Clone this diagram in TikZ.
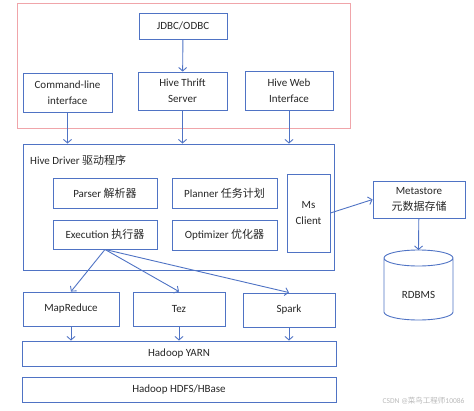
\documentclass[tikz,border=0pt]{standalone}
\usepackage{fontspec}
\setmainfont{Carlito}
\newfontfamily\cjk{Noto Sans CJK SC}
\usetikzlibrary{arrows.meta}
\definecolor{boxblue}{RGB}{79,115,196}
\definecolor{framered}{RGB}{240,165,170}
\definecolor{txt}{RGB}{38,38,38}

\begin{document}
\begin{tikzpicture}[x=1pt,y=-1pt,>={Straight Barb[length=3.5pt,width=8pt]},
	every node/.style={text=txt,font=\fontsize{11}{16}\selectfont},
	box/.style={draw=boxblue,line width=0.9pt,align=center,inner sep=0pt},
	link/.style={boxblue,line width=0.9pt,->}]
	\useasboundingbox (0,0) rectangle (474,410);
	\draw[framered,line width=0.9pt] (17,3) rectangle (350,128);
	\node[box,minimum width=88pt,minimum height=26pt] (jdbc) at (183,26) {JDBC/ODBC};
	\node[box,minimum width=89pt,minimum height=39pt] (cli) at (67.5,92.5) {Command-line\\interface};
	\node[box,minimum width=89pt,minimum height=38pt] (thrift) at (182.5,91) {Hive Thrift\\Server};
	\node[box,minimum width=88pt,minimum height=39pt] (web) at (289,90.5) {Hive Web\\Interface};
	\node[box,minimum width=311pt,minimum height=126pt] (driver) at (178.5,207) {};
	\node[anchor=west,inner sep=0pt] (drvlabel) at (30,160) {Hive Driver {\cjk 驱动程序}};
	\node[box,minimum width=104pt,minimum height=30pt] (parser) at (105,193) {Parser {\cjk 解析器}};
	\node[box,minimum width=105pt,minimum height=30pt] (planner) at (224.5,193) {Planner {\cjk 任务计划}};
	\node[box,minimum width=104pt,minimum height=29pt] (exec) at (105,234.5) {Execution {\cjk 执行器}};
	\node[box,minimum width=105pt,minimum height=30pt] (optim) at (224.5,235) {Optimizer {\cjk 优化器}};
	\node[box,minimum width=43pt,minimum height=78pt] (ms) at (308.5,213) {Ms\\Client};
	\node[box,minimum width=92pt,minimum height=37pt] (meta) at (419,199.5) {Metastore\\{\cjk 元数据存储}};
	\draw[boxblue,line width=0.9pt] (418.5,258) ellipse[x radius=34.5pt,y radius=8pt]
		(384,258) -- (384,312) arc[start angle=180,end angle=360,x radius=34.5pt,y radius=8pt] -- (453,258);
	\coordinate (dbtop) at (418.5,250);
	\node (rdbms) at (418.5,295) {RDBMS};
	\node[box,minimum width=96pt,minimum height=34pt] (mapr) at (71,309) {MapReduce};
	\node[box,minimum width=92pt,minimum height=34pt] (tez) at (179,309) {Tez};
	\node[box,minimum width=92pt,minimum height=34pt] (spark) at (289,310) {Spark};
	\node[box,minimum width=314pt,minimum height=25pt] (yarn) at (179,353.5) {Hadoop YARN};
	\node[box,minimum width=314pt,minimum height=25pt] (hdfs) at (179,389.5) {Hadoop HDFS/HBase};
	\draw[link] (jdbc) -- (thrift);
	\foreach \n in {cli,thrift,web} \draw[link] (\n.south) -- (\n.south |- driver.north);
	\draw[link] (ms.east) -- (meta.west);
	\draw[link] (meta) -- (dbtop);
	\foreach \n in {mapr,tez,spark} {
		\draw[link] (exec.south) -- (\n.north);
		\draw[link] (\n.south) -- (\n.south |- yarn.north);
	}
	\node[anchor=east,text=gray!55,font=\fontsize{7.5}{9}\selectfont] (mark) at (468,401) {CSDN @{\cjk 菜鸟工程师}10086};
\end{tikzpicture}
\end{document}
